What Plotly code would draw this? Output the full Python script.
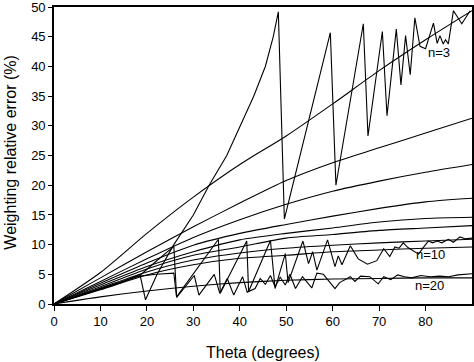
import plotly.graph_objects as go

# Smooth curves: theta grid and relative error for each n
theta_s = [0, 10, 20, 30, 40, 50, 60, 70, 80, 90]
smooth_n3 = [0, 5.3, 11.9, 18.0, 23.5, 28.3, 33.7, 39.3, 44.5, 49.4]
smooth_n4 = [0, 4.4, 8.8, 13.0, 17.0, 20.8, 23.8, 26.3, 28.8, 31.3]
smooth_n5 = [0, 3.8, 7.6, 11.2, 14.2, 16.8, 19.0, 20.7, 22.2, 23.5]
smooth_n6 = [0, 3.5, 6.9, 9.9, 11.9, 13.4, 14.8, 16.1, 17.2, 17.8]
smooth_n7 = [0, 3.2, 6.3, 8.8, 10.8, 11.9, 12.8, 13.8, 14.4, 14.6]
smooth_n8 = [0, 2.9, 5.9, 8.2, 9.6, 11.1, 11.7, 12.4, 12.8, 13.2]
smooth_n9 = [0, 2.7, 5.4, 7.4, 8.6, 9.4, 9.9, 10.3, 10.6, 10.9]
smooth_n10 = [0, 2.4, 4.9, 6.6, 7.7, 8.2, 8.8, 9.1, 9.4, 9.6]
smooth_n20 = [0, 1.2, 2.2, 3.0, 3.6, 4.0, 4.2, 4.3, 4.4, 4.4]

# Zigzag (sampled) curves
zig3_theta = [0, 5, 10, 15, 18.5, 19.7, 22.2, 25.8, 30, 33.4, 37.2, 40.1, 43, 45.5, 47.2, 48.3,
              49.6, 59.5, 60.7, 66.6, 67.6, 70.7, 71.7, 73.7, 74.7, 75.7, 76.7, 77.7, 78.8, 80,
              81.7, 82.5, 83.1, 83.8, 84.3, 84.9, 86, 87.8, 89.6]
zig3_err = [0, 1.3, 2.6, 3.8, 5.0, 0.7, 5, 10, 15, 20, 25, 30, 35, 40, 45, 49.2,
            14.3, 45.7, 20, 47.2, 28.3, 45.9, 31.7, 46.3, 36.9, 45.2, 38.6, 48.2, 43.4, 43.0,
            47.3, 43.9, 45.2, 43.8, 44.5, 43.8, 49.4, 47.2, 49.4]

zig10_theta = [0, 5, 10, 15, 18.5, 22, 25.8, 26.4, 35.4, 35.8, 41.5, 41.9, 46.6, 47.6, 49.8,
               50.4, 53.6, 54.8, 55.7, 56.6, 58.9, 60.5, 61.2, 62, 63.8, 65.5, 67.5, 69.5,
               71, 72.3, 73.4, 74.3, 75.2, 76.2, 77.5, 78.5, 79.5, 80.6, 81.5, 82.5, 83.5,
               84.9, 86, 87.4, 88.5, 90]
zig10_err = [0, 1.3, 2.6, 3.8, 4.8, 7.2, 9.7, 1.2, 10.9, 1.8, 10.6, 2.1, 10.7, 2.6, 8.5,
             3.6, 10.6, 6.8, 8.8, 5.7, 10.8, 6.3, 8.1, 6.6, 9.8, 7.6, 6.7, 7.3,
             9.3, 8.0, 9.6, 9.4, 10.3, 9.5, 8.8, 8.4, 9.5, 10.6, 10.3, 10.6, 10.3,
             10.9, 10.4, 11.3, 11.0, 11.1]

zig20_theta = [0, 5, 10, 15, 18.5, 22, 25.8, 26.4, 30.2, 31.2, 34.5, 35.7, 37.3, 38.7, 40.6,
               41.6, 43.3, 44.4, 45.5, 46.6, 47.6, 48.7, 49.8, 50.8, 52, 53.5, 55.5, 56.6,
               58, 60.5, 61.5, 63.8, 64.8, 66, 68, 69.8, 71, 72.5, 74, 75.5, 77, 79, 81,
               83, 85, 87, 90]
zig20_err = [0, 1.3, 2.6, 3.8, 4.7, 5.0, 5.2, 1.1, 4.8, 1.5, 5.0, 1.8, 4.3, 1.5, 4.6,
             2.0, 2.6, 4.3, 3.3, 4.8, 2.9, 4.5, 3.2, 5.0, 2.6, 4.6, 2.7, 5.2,
             5.0, 2.6, 3.6, 4.6, 3.8, 4.7, 4.6, 3.4, 4.6, 4.1, 4.9, 4.6, 4.4, 4.8, 4.6,
             4.7, 4.6, 4.9, 5.1]

x_ticks = [0, 10, 20, 30, 40, 50, 60, 70, 80]
y_ticks = [0, 5, 10, 15, 20, 25, 30, 35, 40, 45, 50]

labels = ["n=3", "n=10", "n=20"]
label_theta = [82.8, 81.0, 80.8]
label_err = [42.3, 8.4, 3.2]

FONT = "Arial, Liberation Sans, Helvetica, sans-serif"

fig = go.Figure()
for ys in [smooth_n3, smooth_n4, smooth_n5, smooth_n6, smooth_n7, smooth_n8,
           smooth_n9, smooth_n10, smooth_n20]:
    fig.add_trace(go.Scatter(x=theta_s, y=ys, mode="lines",
                             line=dict(color="black", width=1.1, shape="spline", smoothing=0.7),
                             showlegend=False, hoverinfo="skip"))
for xs, ys in [(zig3_theta, zig3_err), (zig10_theta, zig10_err), (zig20_theta, zig20_err)]:
    fig.add_trace(go.Scatter(x=xs, y=ys, mode="lines", line=dict(color="black", width=1.1),
                             showlegend=False, hoverinfo="skip"))

for t, xv, yv in zip(labels, label_theta, label_err):
    fig.add_annotation(x=xv, y=yv, text=t, showarrow=False,
                       font=dict(family=FONT, size=13, color="black"))

# Axis titles as annotations for exact placement
fig.add_annotation(x=0.499, y=-0.162, xref="paper", yref="paper", text="Theta (degrees)",
                   showarrow=False, xanchor="center", yanchor="middle",
                   font=dict(family=FONT, size=16, color="black"))
fig.add_annotation(x=-0.104, y=0.508, xref="paper", yref="paper",
                   text="Weighting relative error (%)", textangle=-90,
                   showarrow=False, xanchor="center", yanchor="middle",
                   font=dict(family=FONT, size=16, color="black"))

axis_font = dict(family=FONT, size=13, color="black")
fig.update_layout(
    width=474, height=362,
    margin=dict(l=54, r=2, t=7, b=58),
    paper_bgcolor="white", plot_bgcolor="white",
    font=axis_font,
    xaxis=dict(range=[0, 90], tickvals=x_ticks, ticks="outside", ticklen=5,
               tickwidth=1.2, tickcolor="black", automargin=False,
               showline=True, linecolor="black", linewidth=1.6, mirror=True,
               showgrid=False, zeroline=False, tickfont=axis_font,
               ticklabeloverflow="allow"),
    yaxis=dict(range=[0, 50.02], tickvals=y_ticks, ticks="outside", ticklen=4,
               tickwidth=1.2, tickcolor="black", automargin=False,
               showline=True, linecolor="black", linewidth=1.6, mirror=True,
               showgrid=False, zeroline=False, tickfont=axis_font,
               ticklabeloverflow="allow"),
)

fig.write_html("out.html", config={"displayModeBar": False},
               post_script="document.body.style.margin='0';document.body.style.padding='0';")
